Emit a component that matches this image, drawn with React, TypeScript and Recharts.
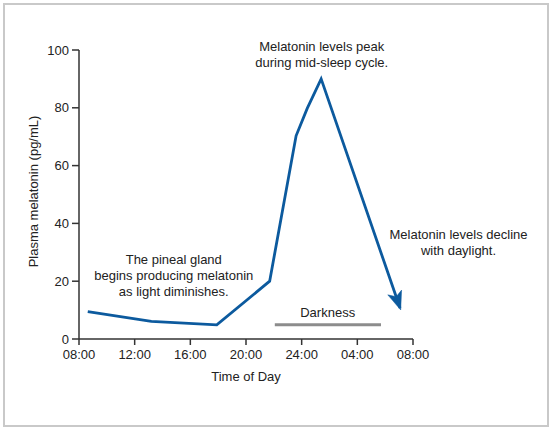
import React from "react";
import {
  LineChart,
  Line,
  XAxis,
  YAxis,
  ReferenceLine,
  ReferenceDot,
} from "recharts";

// Hours elapsed since 08:00 and plasma melatonin (pg/mL)
const HOURS = [0.63, 5.2, 9.9, 13.7, 15.6, 16.4, 17.4, 23.07];
const MELATONIN = [9.5, 6.1, 4.9, 20, 70.3, 79.8, 90, 10.7];

const X_TICKS = [0, 4, 8, 12, 16, 20, 24];
const X_TICK_LABELS = ["08:00", "12:00", "16:00", "20:00", "24:00", "04:00", "08:00"];
const Y_TICKS = [0, 20, 40, 60, 80, 100];

const DARKNESS_START = 14.07;
const DARKNESS_END = 21.7;
const DARKNESS_LEVEL = 4.9;

const NOTE_X = [17.44, 27.27, 6.81, 17.87];
const NOTE_Y = [98.6, 33.5, 22.2, 9.2];
const NOTE_LINES = [
  ["Melatonin levels peak", "during mid-sleep cycle."],
  ["Melatonin levels decline", "with daylight."],
  ["The pineal gland", "begins producing melatonin", "as light diminishes."],
  ["Darkness"],
];

const data = HOURS.map((h, i) => ({ h, v: MELATONIN[i] }));

const FONT = "'Liberation Sans', Arial, Helvetica, sans-serif";
const TEXT = "#222";
const BLUE = "#0c5a9e";

const pts: { cx: number; cy: number }[] = [];

const renderDot = (props: any) => {
  const { cx, cy, index } = props;
  pts[index] = { cx, cy };
  if (index !== data.length - 1 || !pts[index - 1]) {
    return <g key={`d${index}`} />;
  }
  const p = pts[index - 1];
  const dx = cx - p.cx;
  const dy = cy - p.cy;
  const len = Math.sqrt(dx * dx + dy * dy) || 1;
  const ux = dx / len;
  const uy = dy / len;
  const nx = -uy;
  const ny = ux;
  const tx = cx + ux * 2;
  const ty = cy + uy * 2;
  const back = 18.5;
  const half = 7.3;
  const notch = 14;
  const b1x = tx - ux * back + nx * half;
  const b1y = ty - uy * back + ny * half;
  const b2x = tx - ux * back - nx * half;
  const b2y = ty - uy * back - ny * half;
  const nX = tx - ux * notch;
  const nY = ty - uy * notch;
  return (
    <polygon
      key={`d${index}`}
      points={`${tx},${ty} ${b1x},${b1y} ${nX},${nY} ${b2x},${b2y}`}
      fill={BLUE}
      stroke={BLUE}
      strokeWidth={0.5}
    />
  );
};

const makeNote = (lines: string[]) => (props: any) => {
  const { cx, cy } = props;
  const lh = 16;
  const top = cy - ((lines.length - 1) * lh) / 2;
  return (
    <text
      x={cx}
      y={top}
      textAnchor="middle"
      fontFamily={FONT}
      fontSize={13}
      fill={TEXT}
    >
      {lines.map((l, i) => (
        <tspan key={i} x={cx} y={top + i * lh} dy="0.36em">
          {l}
        </tspan>
      ))}
    </text>
  );
};

const YTitle = (props: any) => {
  const vb = props.viewBox || { x: 0, y: 50, width: 79, height: 289 };
  const x = vb.x + 33;
  const y = vb.y + vb.height / 2 - 3;
  return (
    <text
      x={x}
      y={y}
      transform={`rotate(-90 ${x} ${y})`}
      textAnchor="middle"
      dominantBaseline="central"
      fontFamily={FONT}
      fontSize={13}
      fill={TEXT}
    >
      Plasma melatonin (pg/mL)
    </text>
  );
};

const XTitle = (props: any) => {
  const vb = props.viewBox || { x: 79, y: 339, width: 334, height: 90 };
  const x = vb.x + vb.width / 2;
  const y = vb.y + 42;
  return (
    <text x={x} y={y} textAnchor="middle" fontFamily={FONT} fontSize={13} fill={TEXT}>
      Time of Day
    </text>
  );
};

export default function App() {
  return (
    <div
      style={{
        position: "absolute",
        left: 0,
        top: 0,
        width: 550,
        height: 429,
        background: "#fff",
      }}
    >
      <div
        style={{
          position: "absolute",
          left: 3,
          top: 3,
          width: 546,
          height: 424,
          border: "2px solid #c9c9c9",
          boxSizing: "border-box",
        }}
      />
      <div style={{ position: "absolute", left: 0, top: 0 }}>
        <LineChart
          width={550}
          height={429}
          data={data}
          margin={{ top: 50, right: 137, left: 0, bottom: 0 }}
        >
          <XAxis
            dataKey="h"
            type="number"
            domain={[0, 24]}
            ticks={X_TICKS}
            tickFormatter={(v: number) => X_TICK_LABELS[X_TICKS.indexOf(v)]}
            height={90}
            tickSize={6}
            tickMargin={5}
            axisLine={{ stroke: "#333", strokeWidth: 1.5 }}
            tickLine={{ stroke: "#333", strokeWidth: 1.5 }}
            tick={{ fill: TEXT, fontSize: 13, fontFamily: FONT }}
            interval={0}
            label={<XTitle />}
          />
          <YAxis
            type="number"
            domain={[0, 100]}
            ticks={Y_TICKS}
            width={79}
            tickSize={7}
            tickMargin={3}
            axisLine={{ stroke: "#333", strokeWidth: 1.5 }}
            tickLine={{ stroke: "#333", strokeWidth: 1.5 }}
            tick={{ fill: TEXT, fontSize: 13, fontFamily: FONT }}
            interval={0}
            label={<YTitle />}
          />
          <ReferenceLine
            segment={[
              { x: DARKNESS_START, y: DARKNESS_LEVEL },
              { x: DARKNESS_END, y: DARKNESS_LEVEL },
            ]}
            stroke="#8c8c8c"
            strokeWidth={3}
            ifOverflow="visible"
          />
          <Line
            type="linear"
            dataKey="v"
            stroke={BLUE}
            strokeWidth={2.8}
            dot={renderDot}
            activeDot={false}
            isAnimationActive={false}
          />
          {NOTE_X.map((x, i) => (
            <ReferenceDot
              key={`note${i}`}
              x={x}
              y={NOTE_Y[i]}
              r={1}
              ifOverflow="visible"
              shape={makeNote(NOTE_LINES[i])}
            />
          ))}
        </LineChart>
      </div>
    </div>
  );
}
